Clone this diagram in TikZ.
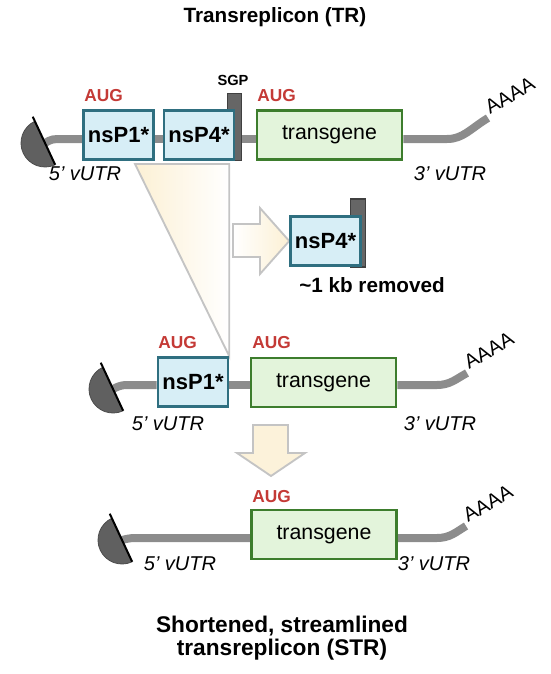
\documentclass[tikz,border=0pt]{standalone}
\usepackage{fontspec}
\setmainfont{Liberation Sans}
\usetikzlibrary{calc}
\pgfdeclarelayer{bg}
\pgfsetlayers{bg,main}
\definecolor{bbgray}{HTML}{8C8C8C}
\definecolor{nsfill}{HTML}{D7EEF6}
\definecolor{nsdraw}{HTML}{2F6F80}
\definecolor{tgfill}{HTML}{E3F4DB}
\definecolor{tgdraw}{HTML}{3D7D2D}
\definecolor{augred}{HTML}{C43A36}
\definecolor{capgray}{HTML}{606060}
\definecolor{cream}{HTML}{FCF0D4}
\definecolor{wedgeline}{HTML}{C4C4C4}
\begin{document}
\begin{tikzpicture}[x=0.75pt,y=-0.75pt,
  nsbox/.style={draw=nsdraw, fill=nsfill, line width=1.9pt, inner sep=0pt,
    minimum width=70*0.75pt, minimum height=49*0.75pt,
    font=\fontsize{16.5}{18}\selectfont\bfseries},
  tgbox/.style={draw=tgdraw, fill=tgfill, line width=1.9pt, inner sep=0pt,
    minimum width=145*0.75pt, minimum height=49*0.75pt,
    font=\fontsize{16}{18}\selectfont},
  aug/.style={text=augred, font=\fontsize{13}{14}\selectfont\bfseries, anchor=base west, inner sep=0pt},
  utr/.style={font=\fontsize{15}{17}\selectfont\itshape, anchor=base, inner sep=0pt},
  polyA/.style={font=\fontsize{15}{16}\selectfont, anchor=base west, rotate=30, inner sep=0pt},
  backbone/.style={draw=bbgray, line width=6pt},
  capshape/.style={fill=capgray, draw=black!70, line width=0.6pt},
  capline/.style={draw=black, line width=1.5pt},
  sgpbar/.style={fill=black!60, draw=black!75, line width=0.8pt, inner sep=0pt},
  blockarrow/.style={draw=wedgeline, line width=1.4pt, left color=cream, right color=white},
  title/.style={font=\fontsize{15.5}{18}\selectfont\bfseries, inner sep=0pt},
  note/.style={font=\fontsize{15.5}{18}\selectfont\bfseries, anchor=base, inner sep=0pt}]

\useasboundingbox (0,0) rectangle (550,674);

% ---------- titles ----------
\node[title, anchor=base] (t1) at (275,23) {Transreplicon (TR)};

% ---------- row 1 ----------
\coordinate (bb1) at (0,139);
\coordinate (cap1) at (45,143);
\coordinate (end1) at (488,118);
\node[sgpbar, minimum width=14*0.75pt, minimum height=67*0.75pt] (sgp1) at (234.5,127) {};
\node[font=\fontsize{11}{12}\selectfont\bfseries, anchor=base, inner sep=0pt] (sgplab) at (233,85) {SGP};
\node[nsbox] (p1a) at (118.5,135) {nsP1*};
\node[nsbox] (p4a) at (199,135) {nsP4*};
\node[tgbox] (tga) at (329.5,135) {transgene};
\node[aug] (aug1a) at (84,101) {AUG};
\node[aug] (aug1b) at (257,101) {AUG};
\node[utr] (u5a) at (85,180) {5' vUTR};
\node[utr] (u3a) at (450,180) {3' vUTR};
\node[polyA] (pa1) at (490,115) {AAAA};

% ---------- row 2 ----------
\coordinate (bb2) at (0,385);
\coordinate (cap2) at (113,389);
\coordinate (end2) at (467,373);
\node[nsbox] (p1b) at (193,382) {nsP1*};
\node[tgbox] (tgb) at (323.5,382.5) {transgene};
\node[aug] (aug2a) at (158,348) {AUG};
\node[aug] (aug2b) at (252,348) {AUG};
\node[utr] (u5b) at (168,430) {5' vUTR};
\node[utr] (u3b) at (440,430) {3' vUTR};
\node[polyA] (pa2) at (469,370) {AAAA};

% ---------- row 3 ----------
\coordinate (bb3) at (0,538);
\coordinate (cap3) at (122,540);
\coordinate (end3) at (466,526);
\node[tgbox] (tgc) at (324,534.5) {transgene};
\node[aug] (aug3) at (252,502) {AUG};
\node[utr] (u5c) at (180,570) {5' vUTR};
\node[utr] (u3c) at (434,570) {3' vUTR};
\node[polyA] (pa3) at (468,523) {AAAA};

% ---------- removed nsP4 ----------
\node[sgpbar, minimum width=15*0.75pt, minimum height=68*0.75pt] (sgp2) at (358,233) {};
\node[nsbox] (p4r) at (325.5,241) {nsP4*};
\node[note] (rem) at (372,292) {\textasciitilde1 kb removed};

% ---------- bottom title ----------
\node[title, font=\fontsize{17}{17.2}\selectfont\bfseries, align=center] (t2) at (282,638)
  {Shortened, streamlined\\transreplicon (STR)};

% ---------- background: wedge, arrows, backbone ----------
\begin{pgfonlayer}{bg}
  \draw[blockarrow] (135,164) -- (p1b.north east |- 0,164) -- (p1b.north east) -- cycle;
  \draw[blockarrow, left color=white, right color=cream]
    (233,224) -- (260,224) -- (260,208) -- (p4r.west) -- (260,274) -- (260,257) -- (233,257) -- cycle;
  \draw[draw=wedgeline, line width=1.4pt, fill=cream!85]
    (253,425) -- (288,425) -- (288,453) -- (305,453) -- (271,476) -- (237,453) -- (253,453) -- cycle;

  \draw[backbone] (cap1) .. controls (52,139) .. (64,139) -- (p1a.west |- bb1);
  \draw[backbone] (p1a.east |- bb1) -- (p4a.west |- bb1);
  \draw[backbone] (p4a.east |- bb1) -- (tga.west |- bb1);
  \draw[backbone] (tga.east |- bb1) -- (447,139) .. controls (463,139) and (470,129) .. (end1);

  \draw[backbone] (cap2) .. controls (121,385) .. (135,385) -- (p1b.west |- bb2);
  \draw[backbone] (p1b.east |- bb2) -- (tgb.west |- bb2);
  \draw[backbone] (tgb.east |- bb2) -- (437,385) .. controls (450,385) and (456,379) .. (end2);

  \draw[backbone] (cap3) .. controls (130,538) .. (144,538) -- (tgc.west |- bb3);
  \draw[backbone] (tgc.east |- bb3) -- (437,538) .. controls (450,538) and (456,532) .. (end3);
\end{pgfonlayer}

% ---------- caps ----------
\foreach \c in {cap1,cap2,cap3}{
  \draw[capshape] (\c) ++(65:24) arc[start angle=65, end angle=245, radius=24] -- cycle;
  \draw[capline] ($(\c)+(245:29)$) -- ($(\c)+(65:24)$);
}
\end{tikzpicture}
\end{document}
